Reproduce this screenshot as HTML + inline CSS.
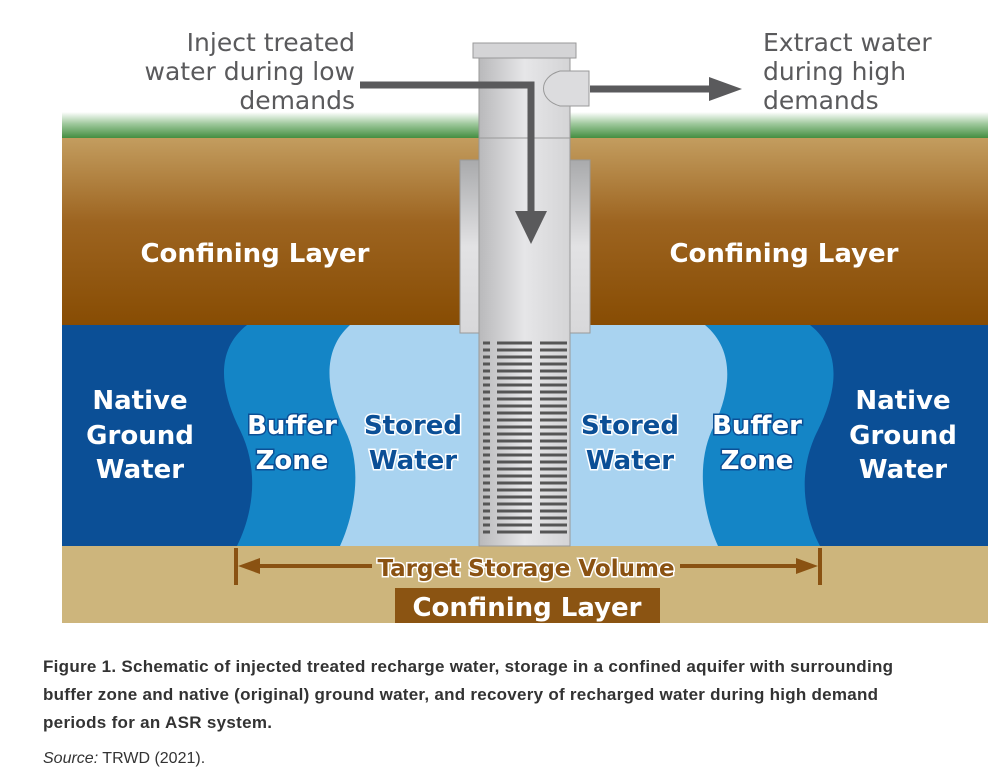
<!DOCTYPE html>
<html><head><meta charset="utf-8"><style>
body{margin:0;background:#fff;width:1008px;height:782px;overflow:hidden;font-family:"Liberation Sans",sans-serif}
</style></head><body>
<svg width="1008" height="782" style="position:absolute;left:0;top:0" font-family="'DejaVu Sans','Liberation Sans',sans-serif">
<defs>
<linearGradient id="grass" x1="0" y1="0" x2="0" y2="1"><stop offset="0" stop-color="#fff"/><stop offset="0.45" stop-color="#9cc79a"/><stop offset="1" stop-color="#3e8a3a"/></linearGradient>
<linearGradient id="soil" x1="0" y1="0" x2="0" y2="1"><stop offset="0" stop-color="#c39d5f"/><stop offset="0.45" stop-color="#9d6420"/><stop offset="1" stop-color="#874c03"/></linearGradient>
<linearGradient id="pipe" x1="0" y1="0" x2="1" y2="0"><stop offset="0" stop-color="#b9b9bb"/><stop offset="0.5" stop-color="#e6e6e8"/><stop offset="1" stop-color="#d4d4d6"/></linearGradient>
<linearGradient id="sleeve" x1="0" y1="0" x2="0" y2="1"><stop offset="0" stop-color="#a9aaac"/><stop offset="0.5" stop-color="#e2e2e4"/><stop offset="1" stop-color="#d8d8da"/></linearGradient>
</defs>
<rect x="62" y="112" width="926" height="27" fill="url(#grass)"/>
<rect x="62" y="138" width="926" height="188" fill="url(#soil)"/>
<rect x="62" y="325" width="926" height="221" fill="#0b4f96"/>
<path d="M247 325 C215 350 220 390 240 430 C262 475 250 520 237 546 L820 546 C806 520 795 475 818 430 C838 390 842 350 810 325 Z" fill="#1485c6"/>
<path d="M350 325 C322 350 325 390 345 430 C365 470 352 520 340 546 L718 546 C706 520 694 470 712 430 C732 390 735 350 705 325 Z" fill="#a9d3f0"/>
<rect x="62" y="546" width="926" height="77" fill="#cdb57c"/>
<rect x="460" y="160" width="130" height="173" fill="url(#sleeve)" stroke="#999" stroke-width="1"/>
<rect x="479" y="58" width="91" height="488" fill="url(#pipe)" stroke="#999" stroke-width="1"/>
<line x1="479" y1="138" x2="570" y2="138" stroke="#999"/>
<rect x="473" y="43" width="103" height="15" fill="#d4d4d6" stroke="#999"/>
<path d="M560 71 L589 71 L589 106 L560 106 C538 100 538 77 560 71 Z" fill="#dcdcde" stroke="#999"/>
<g stroke="#555" stroke-width="3">
<path d="M483 343h7M497 343h35M540 343h27M483 350h7M497 350h35M540 350h27M483 357h7M497 357h35M540 357h27M483 364h7M497 364h35M540 364h27M483 371h7M497 371h35M540 371h27M483 378h7M497 378h35M540 378h27M483 385h7M497 385h35M540 385h27M483 392h7M497 392h35M540 392h27M483 399h7M497 399h35M540 399h27M483 406h7M497 406h35M540 406h27M483 413h7M497 413h35M540 413h27M483 420h7M497 420h35M540 420h27M483 427h7M497 427h35M540 427h27M483 434h7M497 434h35M540 434h27M483 441h7M497 441h35M540 441h27M483 448h7M497 448h35M540 448h27M483 455h7M497 455h35M540 455h27M483 462h7M497 462h35M540 462h27M483 469h7M497 469h35M540 469h27M483 476h7M497 476h35M540 476h27M483 483h7M497 483h35M540 483h27M483 490h7M497 490h35M540 490h27M483 497h7M497 497h35M540 497h27M483 504h7M497 504h35M540 504h27M483 511h7M497 511h35M540 511h27M483 518h7M497 518h35M540 518h27M483 525h7M497 525h35M540 525h27M483 532h7M497 532h35M540 532h27"/>
</g>
<path d="M360 85 H531 V215" fill="none" stroke="#5a5a5c" stroke-width="7"/>
<polygon points="515,211 547,211 531,244" fill="#5a5a5c"/>
<line x1="590" y1="89" x2="712" y2="89" stroke="#5a5a5c" stroke-width="7"/>
<polygon points="709,77 742,89 709,101" fill="#5a5a5c"/>
<g font-family="'DejaVu Sans',sans-serif" font-size="25" fill="#5a5a5c">
<text x="355" y="51" text-anchor="end">Inject treated</text>
<text x="355" y="80" text-anchor="end">water during low</text>
<text x="355" y="109" text-anchor="end">demands</text>
<text x="763" y="51">Extract water</text>
<text x="763" y="80">during high</text>
<text x="763" y="109">demands</text>
</g>
<g font-weight="bold" font-size="26" fill="#fff" text-anchor="middle">
<text x="255" y="262">Confining Layer</text>
<text x="784" y="262">Confining Layer</text>
<text x="140" y="409">Native</text><text x="140" y="444">Ground</text><text x="140" y="478">Water</text>
<text x="903" y="409">Native</text><text x="903" y="444">Ground</text><text x="903" y="478">Water</text>
<g stroke="#0b4f96" stroke-width="3" paint-order="stroke">
<text x="292" y="434">Buffer</text><text x="292" y="469">Zone</text>
<text x="757" y="434">Buffer</text><text x="757" y="469">Zone</text>
</g>
<g fill="#0b4f96" stroke="#fff" stroke-width="3" paint-order="stroke">
<text x="413" y="434">Stored</text><text x="413" y="469">Water</text>
<text x="630" y="434">Stored</text><text x="630" y="469">Water</text>
</g>
</g>
<g stroke="#8a5212" stroke-width="4" fill="#8a5212">
<line x1="236" y1="548" x2="236" y2="585"/><line x1="820" y1="548" x2="820" y2="585"/>
<line x1="250" y1="566" x2="372" y2="566"/><line x1="680" y1="566" x2="806" y2="566"/>
<polygon points="238,566 260,558 260,574" stroke="none"/><polygon points="818,566 796,558 796,574" stroke="none"/>
</g>
<text x="526" y="576" text-anchor="middle" font-weight="bold" font-size="23" fill="#8a5212" stroke="#fff" stroke-width="3" paint-order="stroke">Target Storage Volume</text>
<rect x="395" y="588" width="265" height="35" fill="#8b5412"/>
<text x="527" y="616" text-anchor="middle" font-weight="bold" font-size="26" fill="#fff">Confining Layer</text>
<g font-family="'Liberation Sans',sans-serif" font-size="17" fill="#333">
<text x="43" y="672" font-weight="bold" textLength="850" lengthAdjust="spacing">Figure 1. Schematic of injected treated recharge water, storage in a confined aquifer with surrounding</text>
<text x="43" y="700" font-weight="bold" textLength="835" lengthAdjust="spacing">buffer zone and native (original) ground water, and recovery of recharged water during high demand</text>
<text x="43" y="728" font-weight="bold" textLength="229" lengthAdjust="spacing">periods for an ASR system.</text>
<text x="43" y="763" font-size="16"><tspan font-style="italic">Source:</tspan> TRWD (2021).</text>
</g>
</svg>
</body></html>
